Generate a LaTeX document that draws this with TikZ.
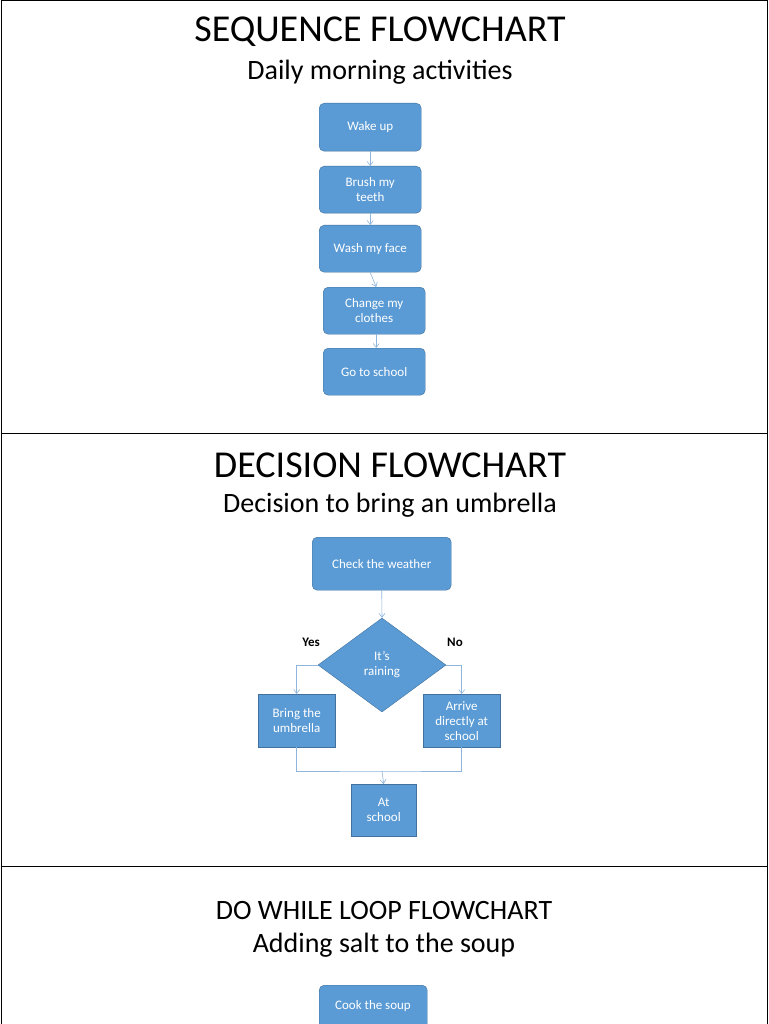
\documentclass[tikz,border=0pt]{standalone}
\usepackage{fontspec}
\setmainfont{Carlito}
\usetikzlibrary{arrows.meta,shapes.geometric}
\definecolor{bfill}{HTML}{5B9BD5}
\definecolor{bdraw}{HTML}{41719C}
\definecolor{conn}{HTML}{8FB4DD}
\begin{document}
\begin{tikzpicture}[x=1pt,y=-1pt,
 box/.style={draw=bdraw,fill=bfill,text=white,font=\fontsize{13}{15}\selectfont,align=center,inner sep=0pt,anchor=north west},
 rbox/.style={box,rounded corners=5pt},
 arr/.style={draw=conn,line width=0.6pt,-{Straight Barb[length=4pt,width=6pt]}},
 ln/.style={draw=conn,line width=0.6pt},
 title/.style={font=\fontsize{38}{40}\selectfont},
 sub/.style={font=\fontsize{28}{30}\selectfont}]
\useasboundingbox (0,0) rectangle (768,1024);
\fill[white] (0,0) rectangle (768,1024);
\draw[line width=1pt] (1,1) rectangle (767,433);
\draw[line width=1pt] (1,433) rectangle (767,866);
\draw[line width=1pt] (1,866) -- (767,866) (1,866) -- (1,1024) (767,866) -- (767,1024);
\node[title] (t1) at (380,32) {SEQUENCE FLOWCHART};
\node[sub] (s1) at (380,72) {Daily morning activities};
\node[rbox,minimum width=102pt,minimum height=48pt] (a) at (319,103) {Wake up};
\node[rbox,minimum width=102pt,minimum height=47pt] (b) at (319,166) {Brush my\\teeth};
\node[rbox,minimum width=102pt,minimum height=47pt] (c) at (319,225) {Wash my face};
\node[rbox,minimum width=102pt,minimum height=47pt] (d) at (323,287) {Change my\\clothes};
\node[rbox,minimum width=102pt,minimum height=47pt] (e) at (323,348) {Go to school};
\draw[arr] (a.south) -- (b.north);
\draw[arr] (b.south) -- (c.north);
\draw[arr] (c.south) -- ([xshift=2pt]d.north);
\draw[arr] ([xshift=2pt]d.south) -- ([xshift=2pt]e.north);
\node[title] (t2) at (390,465) {DECISION FLOWCHART};
\node[sub] (s2) at (390,505) {Decision to bring an umbrella};
\node[rbox,minimum width=139pt,minimum height=53pt] (cw) at (312,537) {Check the weather};
\node[diamond,draw=bdraw,fill=bfill,text=white,font=\fontsize{13}{15}\selectfont,align=center,inner sep=0pt,minimum width=128pt,minimum height=94pt] (dm) at (382,665) {It’s\\raining};
\node[box,minimum width=77pt,minimum height=53pt] (br) at (258,694) {Bring the\\umbrella};
\node[box,minimum width=77pt,minimum height=53pt] (ar) at (423,694) {Arrive\\directly at\\school};
\node[box,minimum width=65pt,minimum height=52pt] (as) at (351,784) {At\\school};
\node[font=\bfseries\fontsize{13}{15}\selectfont] (yes) at (311,642) {Yes};
\node[font=\bfseries\fontsize{13}{15}\selectfont] (no) at (455,642) {No};
\coordinate (j) at (382,771);
\draw[arr] (cw.south) -- (dm.north);
\draw[arr] (dm.west) -| (br.north);
\draw[arr] (dm.east) -| (ar.north);
\draw[ln] (br.south) |- (j) -| (ar.south);
\draw[arr] (j) -- (as.north);
\node[font=\fontsize{28}{30}\selectfont] (t3) at (384,910) {DO WHILE LOOP FLOWCHART};
\node[sub] (s3) at (384,945) {Adding salt to the soup};
\node[rbox,minimum width=108pt,minimum height=50pt] (cs) at (319,985) {};
\node[text=white,font=\fontsize{13}{15}\selectfont] (cst) at (373,1006) {Cook the soup};
\end{tikzpicture}
\end{document}
